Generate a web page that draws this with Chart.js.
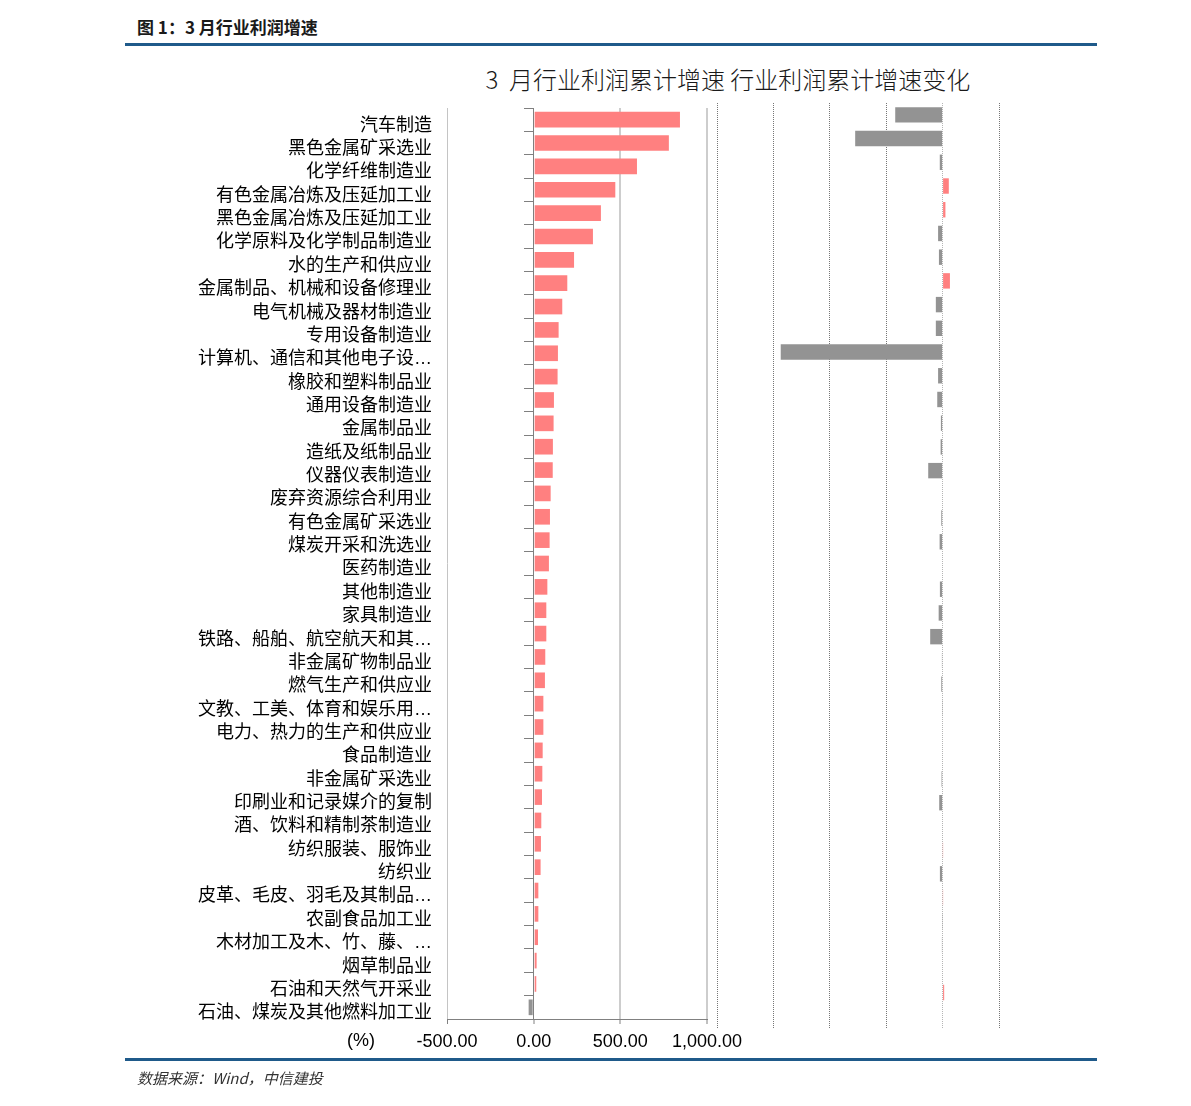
<!DOCTYPE html>
<html><head><meta charset="utf-8">
<script src="https://cdn.jsdelivr.net/npm/chart.js"></script>
<style>
html,body{margin:0;padding:0;background:#fff;}
#page{position:relative;width:1191px;height:1106px;overflow:hidden;background:#fff;font-family:"Noto Sans CJK SC",sans-serif;}
.abs{position:absolute;}
</style></head><body>
<div id="page">
<div class="abs" style="left:137px;top:15px;font-size:17px;font-weight:bold;color:#1a1a1a;line-height:24px;white-space:nowrap;">图 1：3 月行业利润增速</div>
<div class="abs" style="left:125px;top:43px;width:972px;height:3px;background:#1f5a8a;"></div>
<div class="abs" style="left:428px;width:600px;top:63px;text-align:center;font-size:24px;line-height:32px;color:#1a1a1a;font-weight:300;white-space:nowrap;">3&nbsp; 月行业利润累计增速 行业利润累计增速变化</div>
<div class="abs" style="left:0;top:0;width:760px;height:1070px;"><canvas id="c1"></canvas></div>
<div class="abs" style="left:700px;top:0;width:320px;height:1040px;"><canvas id="c2"></canvas></div>
<div class="abs" style="left:330px;top:1028px;width:62px;text-align:center;font-family:'Liberation Sans',Arial,sans-serif;font-size:18px;line-height:24px;color:#000;">(%)</div>
<div class="abs" style="left:125px;top:1058px;width:972px;height:3px;background:#1f5a8a;"></div>
<div class="abs" style="left:137px;top:1067px;font-size:15px;font-style:italic;color:#333;line-height:22px;white-space:nowrap;">数据来源：Wind，中信建投</div>
</div>
<script>
const categories = [
 "汽车制造","黑色金属矿采选业","化学纤维制造业","有色金属冶炼及压延加工业","黑色金属冶炼及压延加工业",
 "化学原料及化学制品制造业","水的生产和供应业","金属制品、机械和设备修理业","电气机械及器材制造业","专用设备制造业",
 "计算机、通信和其他电子设…","橡胶和塑料制品业","通用设备制造业","金属制品业","造纸及纸制品业",
 "仪器仪表制造业","废弃资源综合利用业","有色金属矿采选业","煤炭开采和洗选业","医药制造业",
 "其他制造业","家具制造业","铁路、船舶、航空航天和其…","非金属矿物制品业","燃气生产和供应业",
 "文教、工美、体育和娱乐用…","电力、热力的生产和供应业","食品制造业","非金属矿采选业","印刷业和记录媒介的复制",
 "酒、饮料和精制茶制造业","纺织服装、服饰业","纺织业","皮革、毛皮、羽毛及其制品…","农副食品加工业",
 "木材加工及木、竹、藤、…","烟草制品业","石油和天然气开采业","石油、煤炭及其他燃料加工业"
];
// 3月行业利润累计增速 (%)
const growth = [844,780,596,471,388,342,233,194,165,144,140,138,117,115,111,110,98,94,92,88,79,73,73,67,65,56,56,52,50,48,44,42,40,27,27,25,17,15,-29];
// 行业利润累计增速变化
const change = [-84,-155,-5,11,5,-8,-6.5,13,-12,-12,-287,-8,-9.5,-3,-3.5,-25.5,0,-2.3,-5.3,0,-4.8,-7,-22,-1.2,-2.3,-0.5,0,-0.9,-1.8,-6,-0.9,0.5,-4.8,0.5,-0.5,-1.2,0,2.8,0];
const leftTicks = [-500, 0, 500, 1000];
const rightTicks = [-400, -300, -200, -100, 0, 100];

const PINK = '#FF8080';
const GRAY = '#939393';

const fmt = v => Number(v).toLocaleString('en-US',{minimumFractionDigits:2, maximumFractionDigits:2});

new Chart(document.getElementById('c1'), {
  type: 'bar',
  data: { labels: categories, datasets: [{ data: growth, backgroundColor: growth.map(v => v < 0 ? GRAY : PINK), barPercentage: 0.67, categoryPercentage: 1 }] },
  options: {
    indexAxis: 'y', responsive: true, maintainAspectRatio: false, animation: false,
    layout: { padding: { left: 0, right: 53, top: 108, bottom: 0 } },
    plugins: { legend: { display: false }, tooltip: { enabled: false } },
    scales: {
      x: {
        type: 'linear', min: leftTicks[0], max: leftTicks[leftTicks.length-1],
        afterBuildTicks: s => { s.ticks = leftTicks.map(v => ({ value: v })); },
        ticks: { font: { family: 'Liberation Sans', size: 18 }, color: '#000', padding: 7, maxRotation: 0, callback: v => fmt(v) },
        grid: {
          color: c => (c.tick && c.tick.value === 0) ? 'rgba(0,0,0,0)' : (c.tick && c.tick.value === -500 ? '#c4c4c4' : '#cdcdcd'),
          lineWidth: c => (c.tick && c.tick.value === -500) ? 1 : 2,
          tickColor: '#808080', tickLength: 5, tickWidth: 1
        },
        border: { display: true, color: '#808080', width: 1 },
        afterFit: s => { s.height = 51; }
      },
      y: {
        type: 'category', position: 'left',
        ticks: { autoSkip: false, font: { family: "'Liberation Sans', 'Noto Sans CJK SC'", size: 18 }, color: '#000', padding: 15, labelOffset: 6 },
        grid: { display: false, drawTicks: false }, border: { display: false },
        afterFit: s => { s.width = 447; }
      },
      y0: {
        type: 'category', position: { x: 0 }, offset: true,
        ticks: { display: false },
        grid: { offset: true, drawOnChartArea: false, drawTicks: true, tickLength: 9, tickColor: '#808080', tickWidth: 1 },
        border: { display: true, color: '#808080', width: 1 },
        afterFit: s => { s.width = 0; }
      }
    }
  }
});

new Chart(document.getElementById('c2'), {
  type: 'bar',
  data: { labels: categories, datasets: [{ data: change, backgroundColor: change.map(v => v < 0 ? GRAY : PINK), barPercentage: 0.65, categoryPercentage: 1 }] },
  options: {
    indexAxis: 'y', responsive: true, maintainAspectRatio: false, animation: false,
    layout: { padding: { left: 17, right: 21, top: 103, bottom: 12 } },
    plugins: { legend: { display: false }, tooltip: { enabled: false } },
    scales: {
      x: {
        type: 'linear', min: rightTicks[0], max: rightTicks[rightTicks.length-1],
        afterBuildTicks: s => { s.ticks = rightTicks.map(v => ({ value: v })); },
        ticks: { display: false },
        grid: { color: c => (c.tick && c.tick.value === 0) ? '#b5b5b5' : '#767676', lineWidth: 1, drawTicks: false },
        border: { display: false, dash: [1, 1] },
        afterFit: s => { s.height = 0; }
      },
      y: { type: 'category', display: false, offset: true }
    }
  }
});
</script>
</body></html>
